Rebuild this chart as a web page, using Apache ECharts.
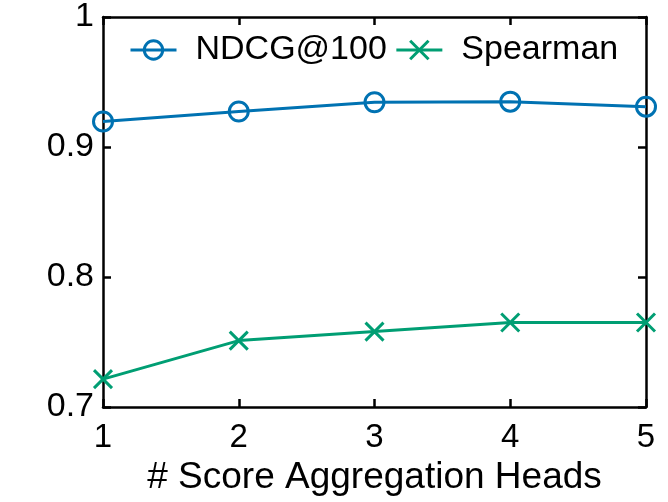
<!DOCTYPE html>
<html>
<head>
<meta charset="UTF-8">
<title>Score Aggregation Heads</title>
<script src="https://cdn.jsdelivr.net/npm/echarts@6/dist/echarts.min.js"></script>
<style>
    html, body { margin: 0; padding: 0; background: #fff; }
    #main { width: 668px; height: 502px; }
</style>
</head>
<body>
<div id="main"></div>
<script>
// data
var heads = [1, 2, 3, 4, 5];
var ndcg = [0.9196, 0.9273, 0.9344, 0.9349, 0.931];
var spearman = [0.7214, 0.7511, 0.758, 0.765, 0.765];
var yTicks = [0.7, 0.8, 0.9, 1];

var FONT = 'Liberation Sans';
var BLUE = '#0072B2';
var GREEN = '#009E73';
var CROSS = 'path://M0,0L10,10M10,0L0,10';

function pairs(xs, ys) {
    return xs.map(function (x, i) { return [x, ys[i]]; });
}

var myChart = echarts.init(document.getElementById('main'));

// box axes: ticks pointing inwards on all four sides
var tick = { show: true, inside: true, length: 8, lineStyle: { color: '#000', width: 2.5 } };
var line = { show: true, onZero: false, lineStyle: { color: '#000', width: 2.5 } };

var option = {
    backgroundColor: '#fff',
    animation: false,
    textStyle: { fontFamily: FONT },
    grid: { left: 103, right: 22, top: 14, bottom: 95 },
    legend: {
        left: 124,
        top: 28,
        itemWidth: 46,
        itemHeight: 23,
        itemGap: 8,
        lineStyle: { width: 3 },
        itemStyle: { borderWidth: 3 },
        textStyle: { fontFamily: FONT, fontSize: 34, color: '#000', padding: [0, 0, 0, 14] },
        data: ['NDCG@100', 'Spearman']
    },
    xAxis: [{
        type: 'value',
        min: 1, max: 5, interval: 1,
        axisLine: line,
        axisTick: tick,
        splitLine: { show: false },
        axisLabel: { fontFamily: FONT, fontSize: 33, color: '#000', margin: 14 },
        name: '# Score Aggregation Heads',
        nameLocation: 'middle',
        nameGap: 48,
        nameTextStyle: { fontFamily: FONT, fontSize: 37, color: '#000' }
    }, {
        type: 'value',
        position: 'top',
        min: 1, max: 5, interval: 1,
        axisLine: line,
        axisTick: tick,
        axisLabel: { show: false },
        splitLine: { show: false }
    }],
    yAxis: [{
        type: 'value',
        min: yTicks[0], max: yTicks[yTicks.length - 1], interval: 0.1,
        axisLine: line,
        axisTick: tick,
        splitLine: { show: false },
        axisLabel: {
            fontFamily: FONT, fontSize: 34, color: '#000', margin: 9,
            padding: [14, 0, 0, 0],
            formatter: function (v) { return String(+v.toFixed(2)); }
        }
    }, {
        type: 'value',
        position: 'right',
        min: yTicks[0], max: yTicks[yTicks.length - 1], interval: 0.1,
        axisLine: line,
        axisTick: tick,
        axisLabel: { show: false },
        splitLine: { show: false }
    }],
    series: [{
        name: 'NDCG@100',
        type: 'line',
        data: pairs(heads, ndcg),
        symbol: 'circle',
        symbolSize: 19,
        showAllSymbol: true,
        lineStyle: { color: BLUE, width: 3 },
        itemStyle: { color: 'rgba(0,0,0,0)', borderColor: BLUE, borderWidth: 3 },
        z: 3
    }, {
        name: 'Spearman',
        type: 'line',
        data: pairs(heads, spearman),
        symbol: CROSS,
        symbolSize: 18,
        showAllSymbol: true,
        lineStyle: { color: GREEN, width: 3 },
        itemStyle: { color: GREEN, borderColor: GREEN, borderWidth: 3 },
        z: 3
    }]
};

myChart.setOption(option);
</script>
</body>
</html>
